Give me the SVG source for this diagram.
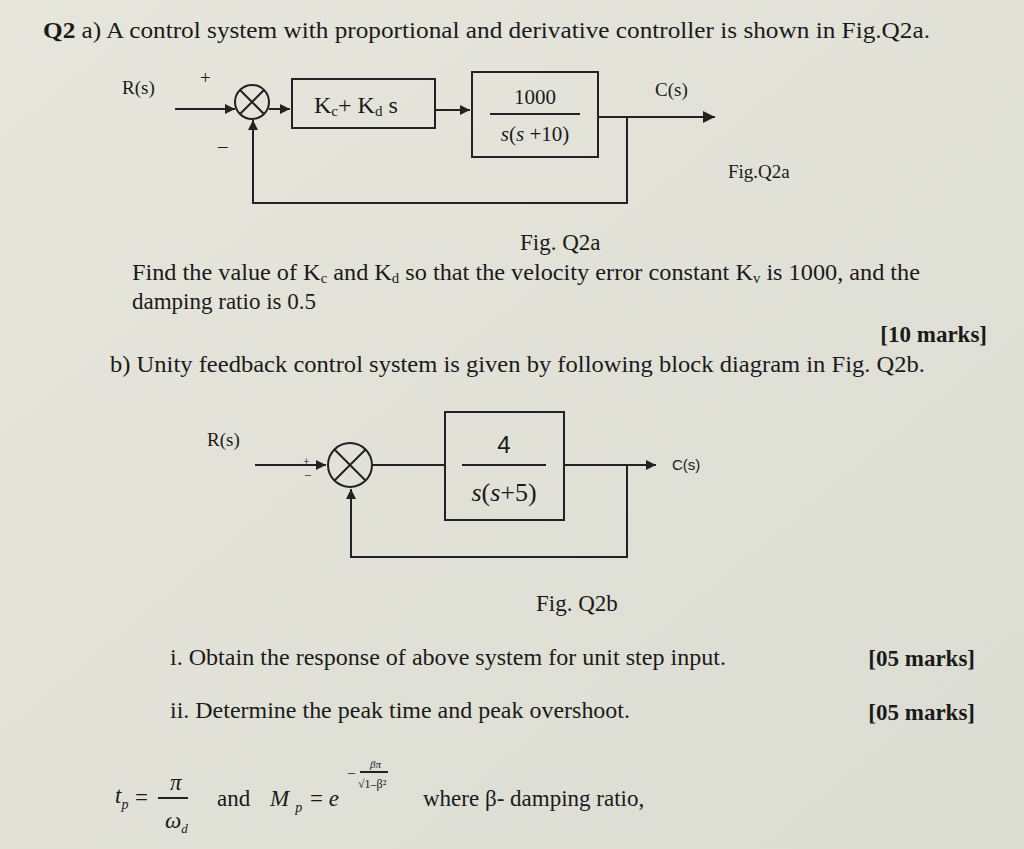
<svg xmlns="http://www.w3.org/2000/svg" width="1024" height="849" viewBox="0 0 1024 849">
<defs>
<linearGradient id="bg" x1="0" y1="0" x2="1" y2="1"><stop offset="0" stop-color="#e6e6dc"/><stop offset="1" stop-color="#dcddd2"/></linearGradient>
<marker id="a" viewBox="0 0 10 10" refX="10" refY="5" markerWidth="10" markerHeight="10" markerUnits="userSpaceOnUse" orient="auto"><path d="M0,0L10,5L0,10z" fill="#222"/></marker>
<marker id="b" viewBox="0 0 10 10" refX="10" refY="5" markerWidth="14" markerHeight="12" markerUnits="userSpaceOnUse" orient="auto"><path d="M0,0L10,5L0,10z" fill="#222"/></marker>
</defs>
<style>
text{font-family:"Liberation Serif","Times New Roman",serif;fill:#1a1a1a}
.t{font-size:23px}.s{font-size:19px}
.ln{stroke:#222;stroke-width:2;fill:none}
.bx{stroke:#222;stroke-width:2;fill:none}
.sa{font-family:"Liberation Sans",Arial,sans-serif}
</style>
<rect width="1024" height="849" fill="url(#bg)"/>
<text x="43" y="38" class="t" textLength="887" lengthAdjust="spacingAndGlyphs"><tspan font-weight="bold">Q2</tspan> a) A control system with proportional and derivative controller is shown in Fig.Q2a.</text>
<g id="q2a-nodes">
<g id="Ra"><text x="122" y="94" class="s">R(s)</text><text x="200" y="84" class="s">+</text><text x="218" y="152" class="s">–</text></g>
<g id="sumA"><circle cx="252" cy="102" r="17" class="bx"/><path d="M240,90L264,114M264,90L240,114" class="ln"/></g>
<g id="ctrl"><rect x="292" y="79" width="143" height="49" class="bx"/><text x="314" y="113" font-size="24">K<tspan font-size="15" dy="3">c</tspan><tspan dy="-3">+ K</tspan><tspan font-size="15" dy="3">d</tspan><tspan dy="-3"> s</tspan></text></g>
<g id="plantA"><rect x="472" y="72" width="126" height="85" class="bx"/><text x="535" y="104" font-size="21" text-anchor="middle">1000</text><line x1="490" y1="114" x2="580" y2="114" class="ln" stroke-width="1.5"/><text x="535" y="141" font-size="21" text-anchor="middle" font-style="italic">s<tspan font-style="normal">(</tspan>s<tspan font-style="normal"> +10)</tspan></text></g>
<g id="Ca"><text x="655" y="96" class="s">C(s)</text><text x="728" y="178" class="s">Fig.Q2a</text></g>
</g>
<g id="q2a-conn">
<path d="M175,109H235" class="ln" marker-end="url(#a)"/>
<path d="M269,109H290" class="ln" marker-end="url(#a)"/>
<path d="M435,110H470" class="ln" marker-end="url(#a)"/>
<path d="M598,117H715" class="ln" marker-end="url(#b)"/>
<path d="M627,117V203H253V120" class="ln" marker-end="url(#a)"/>
</g>
<text x="520" y="250" class="t" font-size="22">Fig. Q2a</text>
<text x="132" y="280" class="t" font-size="22" textLength="788" lengthAdjust="spacingAndGlyphs">Find the value of K<tspan font-size="14" dy="3">c</tspan><tspan dy="-3"> and K</tspan><tspan font-size="14" dy="3">d</tspan><tspan dy="-3"> so that the velocity error constant K</tspan><tspan font-size="14" dy="3">v</tspan><tspan dy="-3"> is 1000, and the</tspan></text>
<text x="132" y="309" class="t" font-size="22">damping ratio is 0.5</text>
<text x="987" y="342" class="t" font-size="22" text-anchor="end" font-weight="bold">[10 marks]</text>
<text x="110" y="372" class="t" textLength="815" lengthAdjust="spacingAndGlyphs">b)  Unity feedback control system is given by following block diagram in Fig. Q2b.</text>
<g id="q2b-nodes">
<g id="Rb"><text x="207" y="446" class="s">R(s)</text><text x="303" y="466" font-size="12">+</text><text x="305" y="478" font-size="12">–</text></g>
<g id="sumB"><circle cx="350" cy="465" r="22" class="bx"/><path d="M334,449L366,481M366,449L334,481" class="ln"/></g>
<g id="plantB"><rect x="445" y="412" width="119" height="108" class="bx"/><text x="504" y="453" font-size="24" text-anchor="middle" class="sa">4</text><line x1="462" y1="465" x2="546" y2="465" class="ln" stroke-width="1.5"/><text x="504" y="501" font-size="26" text-anchor="middle" font-style="italic">s<tspan font-style="normal">(</tspan>s<tspan font-style="normal">+5)</tspan></text></g>
<g id="Cb"><text x="672" y="470" class="sa" font-size="15">C(s)</text></g>
</g>
<g id="q2b-conn">
<path d="M255,465H326" class="ln" marker-end="url(#a)"/>
<path d="M372,465H445" class="ln"/>
<path d="M564,465H656" class="ln" marker-end="url(#a)"/>
<path d="M627,465V557H351V489" class="ln" marker-end="url(#a)"/>
</g>
<text x="536" y="611" class="t" font-size="21">Fig. Q2b</text>
<text x="170" y="665" class="t" font-size="21" textLength="556" lengthAdjust="spacingAndGlyphs">i. Obtain the response of above system for unit step input.</text>
<text x="975" y="666" class="t" font-size="21" text-anchor="end" font-weight="bold">[05 marks]</text>
<text x="170" y="718" class="t" font-size="21" textLength="460" lengthAdjust="spacingAndGlyphs">ii. Determine the peak time and peak overshoot.</text>
<text x="975" y="720" class="t" font-size="21" text-anchor="end" font-weight="bold">[05 marks]</text>
<g id="formula">
<text x="115" y="803" class="t" font-style="italic">t<tspan font-size="14" dy="6">p</tspan></text>
<text x="135" y="805" class="t">=</text>
<text x="170" y="790" class="t" font-style="italic">π</text>
<line x1="158" y1="798" x2="188" y2="798" class="ln" stroke-width="1.2"/>
<text x="165" y="828" class="t" font-style="italic">ω<tspan font-size="13" dy="5">d</tspan></text>
<text x="217" y="806" class="t">and</text>
<text x="270" y="806" class="t" font-style="italic">M<tspan font-size="14" dy="6" dx="6">p</tspan></text>
<text x="310" y="806" class="t">= <tspan font-style="italic">e</tspan></text>
<text x="348" y="777" font-size="14">–</text>
<text x="370" y="768" font-size="11" font-style="italic">βπ</text>
<line x1="360" y1="772" x2="388" y2="772" class="ln" stroke-width="1"/>
<text x="358" y="788" font-size="12">√1–β²</text>
<text x="423" y="806" class="t" font-size="21">where β- damping ratio,</text>
</g>
</svg>
